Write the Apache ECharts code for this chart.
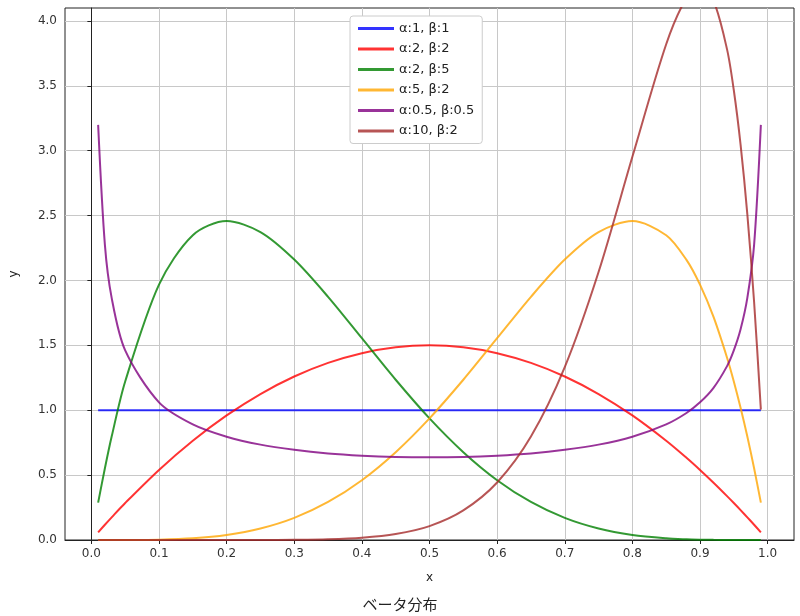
<!DOCTYPE html>
<html><head><meta charset="utf-8">
<script src="https://cdn.jsdelivr.net/npm/echarts@6/dist/echarts.min.js"></script>
<style>body{margin:0}#c{width:800px;height:616px}</style></head>
<body><div id="c"></div>
<script>
const xs = [0.01,0.02,0.03,0.05,0.1,0.15,0.2,0.25,0.3,0.35,0.4,0.45,0.5,0.55,0.6,0.65,0.7,0.75,0.8,0.85,0.88,0.9,0.92,0.94,0.95,0.96,0.97,0.98,0.99];
const b11 = xs.map(()=>1.0);
const b22 = [0.0594,0.1176,0.1746,0.285,0.54,0.765,0.96,1.125,1.26,1.365,1.44,1.485,1.5,1.485,1.44,1.365,1.26,1.125,0.96,0.765,0.6336,0.54,0.4416,0.3384,0.285,0.2304,0.1746,0.1176,0.0594];
const b25 = [0.288,0.553,0.797,1.222,1.968,2.349,2.458,2.373,2.161,1.874,1.555,1.235,0.9375,0.677,0.461,0.293,0.170,0.088,0.0384,0.0129,0.0055,0.0027,0.001,0.0003,0.0002,0.0001,0,0,0];
const b52 = [0,0,0.00002,0.0002,0.0027,0.0129,0.0384,0.088,0.170,0.293,0.461,0.677,0.9375,1.235,1.555,1.874,2.161,2.373,2.458,2.349,2.159,1.968,1.719,1.405,1.222,1.019,0.797,0.553,0.288];
const b0505 = [3.199,2.274,1.866,1.461,1.061,0.891,0.796,0.735,0.695,0.667,0.650,0.640,0.637,0.640,0.650,0.667,0.695,0.735,0.796,0.891,0.979,1.061,1.173,1.340,1.461,1.624,1.866,2.274,3.199];
const b102 = [0,0,0,0,0,0,0,0,0.0015,0.0056,0.0173,0.0458,0.107,0.228,0.443,0.797,1.332,2.065,2.953,3.821,4.178,4.261,4.155,3.781,3.466,3.047,2.509,1.834,1.005];
const names = ['α:1, β:1','α:2, β:2','α:2, β:5','α:5, β:2','α:0.5, β:0.5','α:10, β:2'];
const colors = ['rgba(0,0,255,0.8)','rgba(255,0,0,0.8)','rgba(0,128,0,0.8)','rgba(255,165,0,0.8)','rgba(128,0,128,0.8)','rgba(165,42,42,0.8)'];
const xticks = [0,0.1,0.2,0.3,0.4,0.5,0.6,0.7,0.8,0.9,1.0];
const yticks = [0,0.5,1.0,1.5,2.0,2.5,3.0,3.5,4.0];
const all = [b11,b22,b25,b52,b0505,b102];
const font = 'DejaVu Sans';
const chart = echarts.init(document.getElementById('c'));
chart.setOption({
  animation:false,
  title:{text:'ベータ分布',left:'center',top:592,textStyle:{fontFamily:'Noto Sans CJK JP',fontSize:15,fontWeight:'normal',color:'#222'}},
  legend:{orient:'vertical',left:350,top:16,backgroundColor:'#fff',borderColor:'#ccc',borderWidth:1,borderRadius:3,
    padding:[6,8,6,8],itemGap:7.5,itemWidth:36,itemHeight:3,icon:'rect',
    textStyle:{fontFamily:font,fontSize:13,color:'#222'},data:names},
  grid:{left:64,right:6,top:8,bottom:76,show:true,borderColor:'#222',borderWidth:1},
  xAxis:{type:'value',min:-0.039,max:1.039,name:'x',nameLocation:'middle',nameGap:32,
    nameTextStyle:{fontFamily:font,fontSize:12,color:'#222'},
    axisLine:{onZero:false,lineStyle:{color:'#222'}},
    axisTick:{customValues:xticks,inside:false,length:4,lineStyle:{color:'#222'}},
    axisLabel:{customValues:xticks,fontFamily:font,fontSize:12,color:'#333',formatter:v=>v.toFixed(1)},
    splitLine:{show:true,lineStyle:{color:'#c8c8c8',width:1}}},
  yAxis:{type:'value',min:0,max:4.1,name:'y',nameLocation:'middle',nameGap:45,
    nameTextStyle:{fontFamily:font,fontSize:12,color:'#222'},
    axisLine:{show:true,lineStyle:{color:'#222'}},
    axisTick:{show:true,inside:false,customValues:yticks,length:4,lineStyle:{color:'#222'}},
    axisLabel:{customValues:yticks,fontFamily:font,fontSize:12,color:'#333',formatter:v=>v.toFixed(1)},
    splitLine:{show:true,lineStyle:{color:'#c8c8c8',width:1}}},
  series: names.map((n,i)=>({name:n,type:'line',smooth:0.3,showSymbol:false,clip:true,
    itemStyle:{color:colors[i]},lineStyle:{width:2,color:colors[i]},
    data:xs.map((x,j)=>[x,all[i][j]])}))
});
</script></body></html>
